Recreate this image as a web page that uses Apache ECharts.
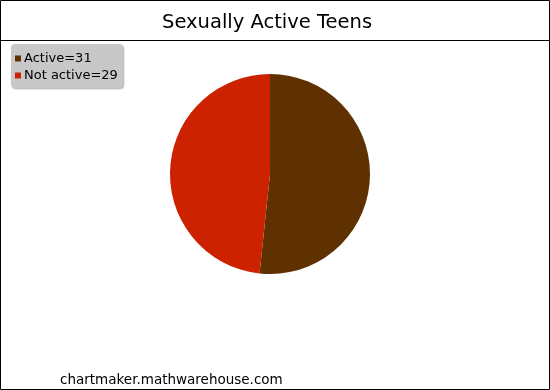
<!DOCTYPE html>
<html><head><meta charset="utf-8">
<script src="https://cdn.jsdelivr.net/npm/echarts@6/dist/echarts.min.js"></script>
<style>html,body{margin:0;padding:0;background:#fff}#c{width:550px;height:390px}</style>
</head><body><div id="c"></div>
<script>
var categories = ['Active', 'Not active'];
var values = [31, 29];
var colors = ['#5F3000', '#CC2200'];
var chart = echarts.init(document.getElementById('c'), null, {renderer: 'canvas'});
var font = 'DejaVu Sans';
chart.setOption({
  animation: false,
  title: {
    text: 'Sexually Active Teens', left: 157, top: 8,
    textStyle: {fontFamily: font, fontSize: 19.5, fontWeight: 'normal', color: '#000'}
  },
  legend: {
    orient: 'vertical', left: 11, top: 44,
    backgroundColor: '#c8c8c8', borderRadius: 4,
    shadowColor: 'rgba(0,0,0,0.35)', shadowBlur: 2, shadowOffsetX: 1, shadowOffsetY: 1,
    padding: [7, 5, 5, 4],
    icon: 'rect', itemWidth: 6, itemHeight: 6, itemGap: 2,
    selectedMode: false,
    textStyle: {fontFamily: font, fontSize: 13, color: '#000', padding: [0, 0, 0, -2], lineHeight: 15},
    formatter: function (name) { return name + '=' + values[categories.indexOf(name)]; },
    data: categories
  },
  graphic: [
    {type: 'rect', shape: {x: 0.5, y: 0.5, width: 549, height: 389}, style: {fill: 'none', stroke: '#000', lineWidth: 1}, z: 100},
    {type: 'line', shape: {x1: 0, y1: 40.5, x2: 550, y2: 40.5}, style: {stroke: '#000', lineWidth: 1}, z: 100},
    {type: 'text', left: 60, top: 373, style: {text: 'chartmaker.mathwarehouse.com', font: '13.5px "DejaVu Sans"', fill: '#000'}}
  ],
  series: [{
    type: 'pie', center: [270, 174], radius: 100, startAngle: 90, clockwise: true,
    label: {show: false}, labelLine: {show: false},
    emphasis: {disabled: true},
    itemStyle: {borderWidth: 0},
    data: categories.map(function (c, i) { return {name: c, value: values[i], itemStyle: {color: colors[i]}}; })
  }]
});
</script></body></html>
